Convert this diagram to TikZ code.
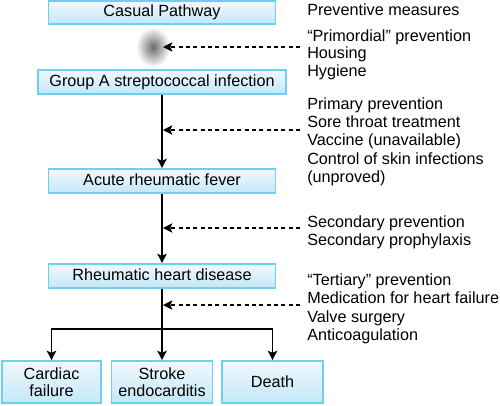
\documentclass[tikz,border=0pt]{standalone}
\usepackage{fontspec}
\setmainfont{Liberation Sans}
\usetikzlibrary{arrows.meta,shapes.geometric}
\definecolor{boxline}{HTML}{6CCFF4}
\definecolor{boxfill}{HTML}{C4E7F7}
\definecolor{boxtop}{HTML}{F0F9FE}
\begin{document}
\begin{tikzpicture}[x=0.75pt,y=-0.75pt,
  box/.style={draw=boxline, line width=1.3pt, top color=boxtop, bottom color=boxfill, inner sep=0pt, align=center, font=\fontsize{12.15}{13.1}\selectfont},
  onel/.style={text height=8.8pt, text depth=2.6pt},
  txt/.style={anchor=base west, inner sep=0pt, font=\fontsize{12.15}{13.7}\selectfont},
  arr/.style={line width=1.4pt, -{Stealth[length=7pt,width=7pt,inset=1.5pt]}},
  darr/.style={line width=1.1pt, dash pattern=on 3pt off 2.5pt, -{Stealth[length=7pt,width=7pt,inset=1.5pt]}}]
\useasboundingbox (0,0) rectangle (500,405);

% boxes
\node[box,onel,minimum width=227*0.75pt,minimum height=23*0.75pt] (cp) at (162,12.5) {Casual Pathway};
\node[box,onel,minimum width=248*0.75pt,minimum height=24*0.75pt] (ga) at (162,82) {Group A streptococcal infection};
\node[box,onel,minimum width=227*0.75pt,minimum height=24*0.75pt] (arf) at (162,181) {Acute rheumatic fever};
\node[box,onel,minimum width=227*0.75pt,minimum height=24*0.75pt] (rhd) at (162,276) {Rheumatic heart disease};
\node[box,minimum width=99*0.75pt,minimum height=42*0.75pt] (cf) at (51.5,382) {Cardiac\\failure};
\node[box,minimum width=101*0.75pt,minimum height=42*0.75pt] (se) at (162,382) {Stroke\\endocarditis};
\node[box,minimum width=101*0.75pt,minimum height=42*0.75pt] (de) at (272.5,382) {Death};

% blurred spot
\node[ellipse, minimum width=34*0.75pt, minimum height=40*0.75pt, inner sep=0pt, inner color=black!58, outer color=white] (blob) at (153,47) {};

% solid arrows
\draw[arr] (ga.south) -- (ga.south |- arf.north);
\draw[arr] (arf.south) -- (arf.south |- rhd.north);
\draw[arr] (rhd.south) -- (rhd.south |- se.north);
\coordinate (br) at (162,329);
\draw[arr] (br) -| (cf.north);
\draw[arr] (br) -| (de.north);

% dashed arrows
\coordinate (s1) at (300,47);  \coordinate (t1) at (163,47);
\coordinate (s2) at (300,130); \coordinate (t2) at (163,130);
\coordinate (s3) at (300,228); \coordinate (t3) at (163,228);
\coordinate (s4) at (300,305); \coordinate (t4) at (163,305);
\draw[darr] (s1) -- (t1);
\draw[darr] (s2) -- (t2);
\draw[darr] (s3) -- (t3);
\draw[darr] (s4) -- (t4);

% right-hand text
\node[txt] (p0) at (307,15.6) {Preventive measures};
\node[txt] (p1) at (307,41.2) {“Primordial” prevention};
\node[txt] (p2) at (307,58.6) {Housing};
\node[txt] (p3) at (307,76.8) {Hygiene};
\node[txt] (p4) at (307,109.3) {Primary prevention};
\node[txt] (p5) at (307,127.5) {Sore throat treatment};
\node[txt] (p6) at (307,145.9) {Vaccine (unavailable)};
\node[txt] (p7) at (307,164.3) {Control of skin infections};
\node[txt] (p8) at (307,182.6) {(unproved)};
\node[txt] (p9) at (307,227.6) {Secondary prevention};
\node[txt] (p10) at (307,245.9) {Secondary prophylaxis};
\node[txt] (p11) at (307,285.6) {“Tertiary” prevention};
\node[txt] (p12) at (307,303.8) {Medication for heart failure};
\node[txt] (p13) at (307,322.1) {Valve surgery};
\node[txt] (p14) at (307,340.3) {Anticoagulation};
\end{tikzpicture}
\end{document}
